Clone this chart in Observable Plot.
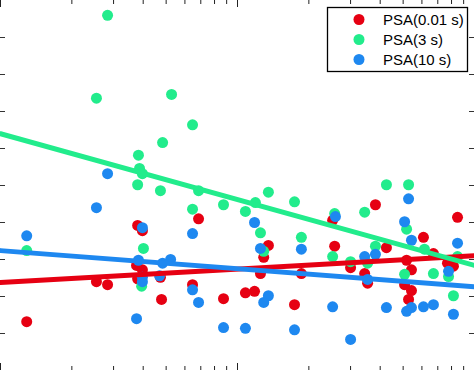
<!DOCTYPE html>
<html><head><meta charset="utf-8">
<script src="https://cdn.jsdelivr.net/npm/d3@7"></script>
<script src="https://cdn.jsdelivr.net/npm/@observablehq/plot@0.6"></script>
<style>html,body{margin:0;padding:0;background:#fff;overflow:hidden}#chart{position:relative;width:474px;height:370px}</style>
</head><body><div id="chart"></div>
<script>
// Series
const seriesNames = ["PSA(0.01 s)", "PSA(3 s)", "PSA(10 s)"];
const seriesColors = ["#e60012", "#22ec8c", "#1e88f0"];

// PSA(0.01 s)
const redDist = [1.29,2.54,2.83,3.79,3.97,3.75,3.97,3.79,4.78,4.73,6.85,6.46,8.73,10.8,11.8,13.5,12.9,12.5,17.4,18.6,38.2,25.2,84.8,60.9,25.7,42.5,67.1,30.0,51.7,54.2,76.9,81.5,34.4,35.4,50.7,54.2,52.7];
const redVal  = [-1.84,-1.30,-1.34,-0.54,-0.61,-1.08,-1.14,-1.26,-1.54,-1.24,-0.45,-1.34,-1.53,-1.45,-1.43,-0.81,-0.97,-1.19,-1.61,-1.19,-0.26,-0.47,-0.43,-0.70,-0.82,-0.84,-0.92,-1.11,-1.01,-1.14,-1.05,-1.09,-1.19,-1.32,-1.34,-1.42,-1.54];

// PSA(3 s)
const greenDist = [2.83,2.54,5.27,6.46,4.83,3.82,3.86,3.97,3.79,4.73,6.85,13.5,8.73,6.46,10.8,11.9,17.4,12.5,18.6,12.9,1.29,4.01,3.94,42.5,52.7,34.4,25.7,51.7,38.2,25.2,61.5,84.8,30.0,35.4,67.1,77.7,50.7,81.5];
const greenVal  = [2.30,1.18,1.23,0.82,0.58,0.41,0.23,0.16,0.01,-0.07,-0.07,-0.09,-0.26,-0.32,-0.35,-0.23,-0.22,-0.64,-0.70,-0.89,-0.88,-0.85,-1.36,0.01,0.01,-0.36,-0.38,-0.59,-0.82,-0.96,-0.86,-0.96,-1.03,-1.05,-1.19,-1.23,-1.20,-1.49];

// PSA(10 s)
const blueDist = [2.83,2.54,1.29,3.97,3.82,3.97,3.97,4.69,3.75,11.8,6.46,12.5,18.6,5.22,4.83,6.46,6.85,13.5,12.9,8.73,10.8,17.4,52.7,25.9,50.7,54.2,84.8,34.4,38.2,77.7,35.4,25.2,42.5,54.2,51.7,60.9,67.1,81.5,30.0];
const blueVal  = [0.16,-0.30,-0.68,-0.57,-1.01,-1.24,-1.30,-1.22,-1.80,-0.50,-0.65,-0.85,-0.86,-1.00,-1.05,-1.41,-1.58,-1.49,-1.58,-1.92,-1.93,-1.95,-0.18,-0.42,-0.49,-0.74,-0.78,-0.96,-0.93,-1.16,-1.27,-1.64,-1.65,-1.65,-1.70,-1.64,-1.61,-1.74,-2.08];

// Regression lines (end values at x = 1 and x = 100)
const fitDist = [1, 100];
const redFit = [-1.31, -0.95];
const greenFit = [0.70, -1.08];
const blueFit = [-0.88, -1.37];

// Tick positions
const xTicks = [1,2,3,4,5,6,7,8,9,10,20,30,40,50,60,70,80,90,100];
const xMajor = [1,10,100];
const yTicks = [-2,-1.5,-1,-0.5,0,0.5,1,1.5,2];

const W = 474, H = 370;

const points = [];
[[redDist, redVal], [greenDist, greenVal], [blueDist, blueVal]].forEach(([ds, vs], i) => {
  ds.forEach((d, j) => points.push({series: seriesNames[i], dist: d, val: vs[j]}));
});
const fits = [];
[redFit, greenFit, blueFit].forEach((f, i) => {
  fitDist.forEach((d, j) => fits.push({series: seriesNames[i], dist: d, val: f[j]}));
});
const colorOf = d3.scaleOrdinal(seriesNames, seriesColors);

function legendMark() {
  const g = d3.create("svg:g");
  g.append("rect").attr("x", 327.5).attr("y", 7.5).attr("width", 140).attr("height", 64)
    .attr("fill", "#fff").attr("stroke", "#000").attr("stroke-width", 1.3);
  seriesNames.forEach((name, i) => {
    const cy = 19.5 + 20 * i;
    g.append("circle").attr("cx", 359).attr("cy", cy).attr("r", 5.5).attr("fill", colorOf(name));
    g.append("text").attr("x", 383).attr("y", cy).attr("dy", "0.36em")
      .style("font-family", "'Liberation Sans', Arial, sans-serif").style("font-size", "15px")
      .style("text-anchor", "start").attr("text-anchor", "start")
      .attr("fill", "#000").text(name);
  });
  return g.node();
}

const chart = Plot.plot({
  width: W, height: H, margin: 0,
  style: {background: "#fff"},
  x: {type: "log", domain: [1, 100], axis: null},
  y: {domain: [-2.5, 2.5], axis: null},
  color: {domain: seriesNames, range: seriesColors},
  marks: [
    Plot.dot(points, {x: "dist", y: "val", fill: "series", r: 5.5}),
    Plot.line(fits, {x: "dist", y: "val", stroke: "series", z: "series", strokeWidth: 5}),
    Plot.ruleX(xTicks.filter(d => !xMajor.includes(d)), {x: d => d, insetBottom: H - 4, stroke: "#222"}),
    Plot.ruleX(xTicks.filter(d => !xMajor.includes(d)), {x: d => d, insetTop: H - 4, stroke: "#222"}),
    Plot.ruleX(xMajor, {x: d => d, insetBottom: H - 7, stroke: "#222"}),
    Plot.ruleX(xMajor, {x: d => d, insetTop: H - 7, stroke: "#222"}),
    Plot.ruleY(yTicks, {y: d => d, insetRight: W - 5, stroke: "#333"}),
    Plot.ruleY(yTicks, {y: d => d, insetLeft: W - 5, stroke: "#333"}),
    legendMark
  ]
});
document.getElementById("chart").appendChild(chart);
</script>
</body></html>
